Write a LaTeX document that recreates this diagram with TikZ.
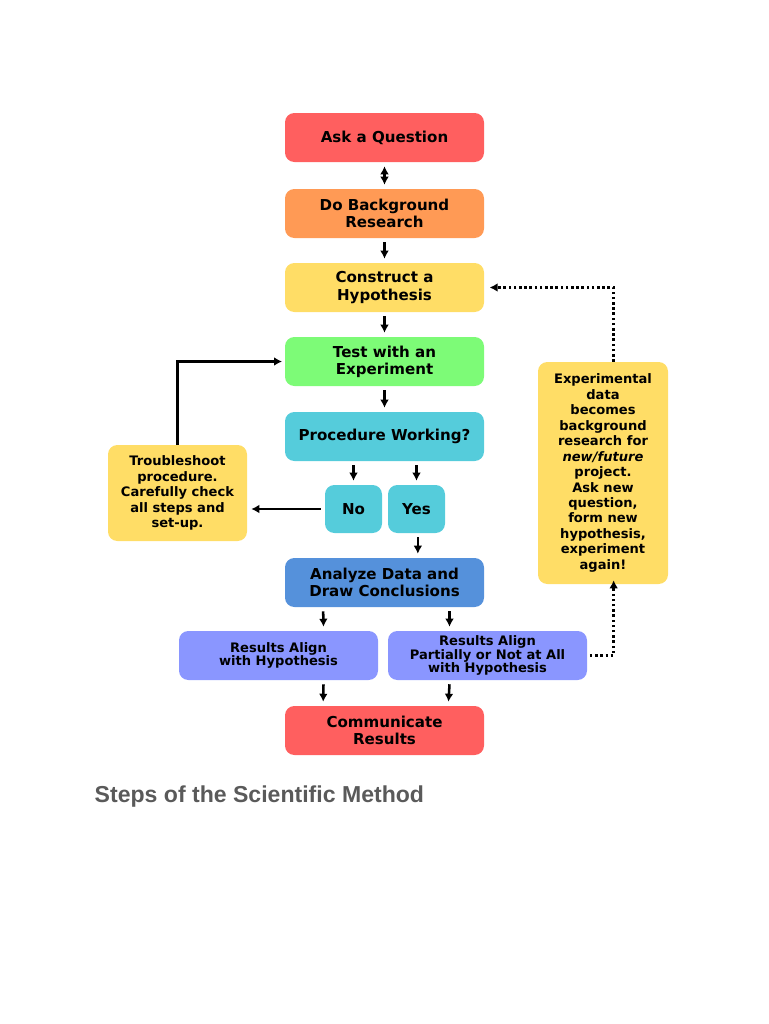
\documentclass[tikz,border=0pt]{standalone}
\usepackage{fontspec}
\setmainfont{DejaVu Sans}
\setsansfont{Liberation Sans}
\usetikzlibrary{arrows.meta}
\definecolor{cred}{HTML}{FF5F5F}
\definecolor{corange}{HTML}{FF9A55}
\definecolor{cyellow}{HTML}{FFDD66}
\definecolor{cgreen}{HTML}{7DFB77}
\definecolor{ccyan}{HTML}{55CCDB}
\definecolor{cblue}{HTML}{5591DB}
\definecolor{cperi}{HTML}{8A96FF}
\definecolor{capt}{HTML}{5A5A5A}
\begin{document}
\begin{tikzpicture}[x=0.75pt,y=-0.75pt,
 >={Latex[length=6pt,width=6.5pt]},
 box/.style={rounded corners=7pt,inner sep=0pt,align=center,font=\bfseries\fontsize{11.3}{12.8}\selectfont},
 sbox/.style={box,font=\bfseries\fontsize{9.8}{10.3}\selectfont},
 arr/.style={->,line width=1.9pt},
 dot/.style={arr,dotted,line width=1.8pt}]
\useasboundingbox (0,0) rectangle (768,1024);
\newcommand{\bx}[7]{\node[#1,fill=#2,minimum width=#5*0.75pt,minimum height=#6*0.75pt] (#3) at (#4) {#7};}
\bx{box}{cred}{ask}{384.5,137.5}{199}{49}{Ask a Question}
\bx{box}{corange}{bg}{384.5,213.5}{199}{49}{Do Background\\Research}
\bx{box}{cyellow}{hyp}{384.5,287.5}{199}{49}{Construct a\\Hypothesis}
\bx{box}{cgreen}{test}{384.5,361.5}{199}{49}{Test with an\\Experiment}
\bx{box}{ccyan}{proc}{384.5,436.5}{199}{49}{Procedure Working?}
\bx{box}{ccyan}{no}{353.5,509}{57}{48}{No}
\bx{box}{ccyan}{yes}{416.5,509}{57}{48}{Yes}
\node[sbox,fill=cyellow,minimum width=104.25pt,minimum height=72pt,font=\bfseries\fontsize{9.8}{11.6}\selectfont] (trb) at (177.5,493) {Troubleshoot\\procedure.\\Carefully check\\all steps and\\set-up.};
\bx{box}{cblue}{ana}{384.5,582.5}{199}{49}{Analyze Data and\\Draw Conclusions}
\bx{sbox}{cperi}{ra}{278.5,655.5}{199}{49}{Results Align\\with Hypothesis}
\bx{sbox}{cperi}{rp}{487.5,655.5}{199}{49}{Results Align\\Partially or Not at All\\with Hypothesis}
\bx{box}{cred}{com}{384.5,730.5}{199}{49}{Communicate\\Results}
\node[sbox,fill=cyellow,minimum width=97.5pt,minimum height=166.5pt,font=\bfseries\fontsize{9.8}{11.6}\selectfont] (exp) at (603,473) {Experimental\\data\\becomes\\background\\research for\\\itshape new/future\\project.\\Ask new\\question,\\form new\\hypothesis,\\experiment\\again!};
\node[anchor=west,text=capt,font=\sffamily\bfseries\fontsize{17.3}{19}\selectfont] (cap) at (90,797) {Steps of the Scientific Method};
\draw[<->,line width=1.9pt] ([yshift=-3pt]ask.south) -- ([yshift=3pt]bg.north);
\draw[arr] ([yshift=-3pt]bg.south) -- ([yshift=3pt]hyp.north);
\draw[arr] ([yshift=-3pt]hyp.south) -- ([yshift=3pt]test.north);
\draw[arr] ([yshift=-3pt]test.south) -- ([yshift=3pt]proc.north);
\draw[arr] ([yshift=-3pt]proc.south-|no) -- ([yshift=3pt]no.north);
\draw[arr] ([yshift=-3pt]proc.south-|yes) -- ([yshift=3pt]yes.north);
\draw[arr] ([xshift=1pt,yshift=-3pt]yes.south) -- ([xshift=1pt,yshift=3pt]ana.north-|yes);
\draw[arr] ([xshift=-46pt,yshift=-3pt]ana.south) -- ([xshift=33.75pt,yshift=3pt]ra.north);
\draw[arr] ([xshift=-28.5pt,yshift=-3pt]ana.south-|rp) -- ([xshift=-28.5pt,yshift=3pt]rp.north);
\draw[arr] ([xshift=33.75pt,yshift=-3pt]ra.south) -- ([xshift=-46pt,yshift=3pt]com.north);
\draw[arr] ([xshift=-28.5pt,yshift=-3pt]rp.south) -- ([xshift=48pt,yshift=3pt]com.north);
\draw[arr] ([xshift=-3pt]no.west) -- ([xshift=3pt]no.west-|trb.east);
\draw[arr] (trb.north) -- (trb.north|-test.west) -- ([xshift=-2pt]test.west);
\draw[dot] ([xshift=2pt]rp.east) -| ([xshift=8pt,yshift=3pt]exp.south);
\draw[dot] ([xshift=8pt]exp.north) |- ([xshift=4pt]hyp.east);
\end{tikzpicture}
\end{document}
